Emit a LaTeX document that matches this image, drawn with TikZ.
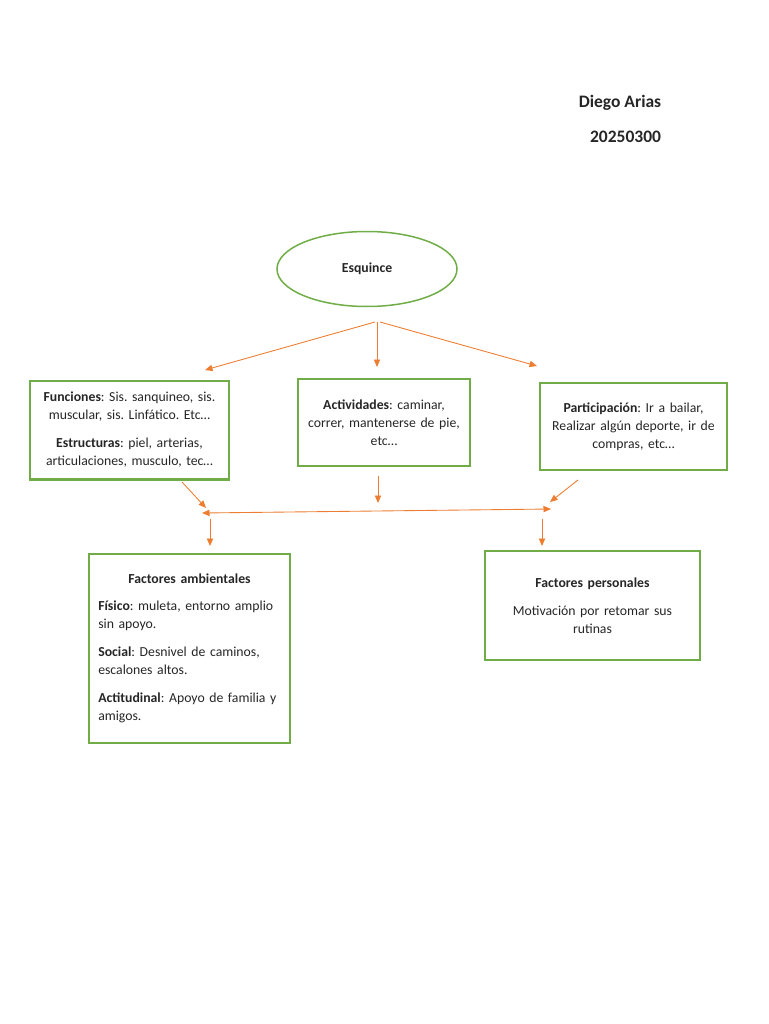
\documentclass[tikz,border=0pt]{standalone}
\usepackage{fontspec}
\setmainfont{Carlito}
\usetikzlibrary{arrows.meta,shapes.geometric}
\definecolor{verde}{HTML}{70AD47}
\definecolor{naranja}{HTML}{ED7D31}
\frenchspacing

\begin{document}
\begin{tikzpicture}
[x=0.8pt, y=-0.8pt,
box/.style={draw=verde, line width=1pt, inner sep=0pt, font=\fontsize{11}{14.4}\selectfont, text=black!85},
flecha/.style={naranja, line width=0.7pt, -{Triangle[length=6pt,width=5pt]}},
titulo/.style={font=\bfseries\fontsize{14}{16}\selectfont, text=black!85}]
\useasboundingbox (0,0) rectangle (768,1024);
\node[titulo] (nombre) at (620,103) {Diego Arias};
\node[titulo] (codigo) at (625.5,137) {20250300};
\node[draw=verde, line width=1.2pt, ellipse, minimum width=144pt, minimum height=60pt, font=\bfseries\fontsize{11}{12}\selectfont, text=black!85] (esquince) at (367,269) {Esquince};
\node[box, minimum width=159.2pt, minimum height=78.4pt, text width=150pt, align=center] (funciones) at (129.5,430)
 {\textbf{Funciones}: Sis. sanquineo, sis.\\ muscular, sis. Linfático. Etc…\\[8pt] \textbf{Estructuras}: piel, arterias,\\ articulaciones, musculo, tec…};
\draw[verde, line width=1.8pt] (funciones.south west) -- (funciones.south east);
\node[box, minimum width=137.6pt, minimum height=69.6pt, text width=130pt, align=center] (actividades) at (384,422.5)
 {\textbf{Actividades}: caminar,\\ correr, mantenerse de pie,\\ etc…};
\node[box, minimum width=149.6pt, minimum height=69.6pt, text width=140pt, align=center] (participacion) at (633.5,426.5)
 {\textbf{Participación}: Ir a bailar,\\ Realizar algún deporte, ir de\\ compras, etc…};
\node[box, minimum width=160.8pt, minimum height=151.2pt, text width=146pt] (ambientales) at (189.5,648.5)
 {{\centering\fontsize{11}{14.4}\selectfont\textbf{Factores ambientales}\par}\vspace{7pt}
 \raggedright \textbf{Físico}: muleta, entorno amplio\\ sin apoyo.\par\vspace{8pt}
 \textbf{Social}: Desnivel de caminos,\\ escalones altos.\par\vspace{8pt}
 \textbf{Actitudinal}: Apoyo de familia y\\ amigos.\par};
\node[box, minimum width=172pt, minimum height=87.2pt, text width=160pt, align=center] (personales) at (592.5,605.5)
 {{\fontsize{11}{14.4}\selectfont\textbf{Factores personales}}\\[8pt] Motivación por retomar sus\\ rutinas};
% flechas desde esquince
\coordinate (a1) at (375,322);
\coordinate (a2) at (377,322);
\coordinate (a3) at (380,322);
\coordinate (b1) at (205,370);
\coordinate (b2) at (377,367);
\coordinate (b3) at (537,366);
\draw[flecha] (a1) -- (b1);
\draw[flecha] (a2) -- (b2);
\draw[flecha] (a3) -- (b3);
% flechas hacia la linea
\coordinate (c1) at (182,482);
\coordinate (c2) at (378,476);
\coordinate (c3) at (578,480);
\coordinate (d1) at (206,508);
\coordinate (d2) at (378,503);
\coordinate (d3) at (550,502);
\draw[flecha] (c1) -- (d1);
\draw[flecha] (c2) -- (d2);
\draw[flecha] (c3) -- (d3);
\coordinate (izq) at (202,513);
\coordinate (der) at (551,509);
\draw[flecha, {Triangle[length=6pt,width=5pt]}-{Triangle[length=6pt,width=5pt]}] (izq) -- (der);
% flechas hacia los factores
\coordinate (e1) at (210,519);
\coordinate (e2) at (542,519);
\coordinate (f1) at (210,546);
\coordinate (f2) at (542,546);
\draw[flecha] (e1) -- (f1);
\draw[flecha] (e2) -- (f2);
\end{tikzpicture}
\end{document}
